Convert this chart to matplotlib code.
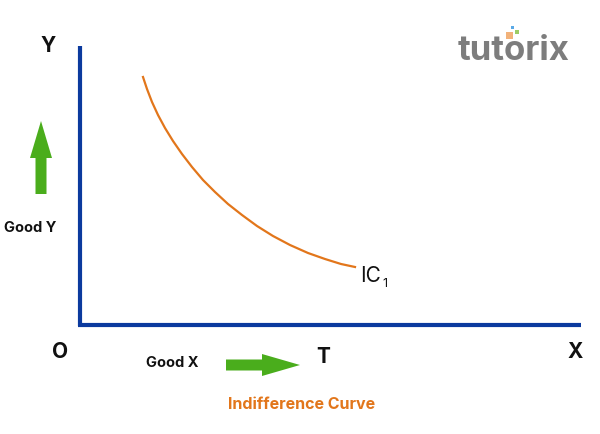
import matplotlib
matplotlib.use("Agg")
import matplotlib.pyplot as plt
from matplotlib.patches import FancyArrow, Rectangle

# Data (in picture coordinates, origin top-left)
curve_x = [143, 147, 152, 158, 165, 173, 182, 192, 203, 215, 228, 242, 257, 273, 290, 308, 325, 341, 355]
curve_y = [78, 90, 103, 116, 129, 142, 155, 168, 181, 193, 205, 216, 227, 237, 246, 254, 260, 265, 268]

y_axis_x = [80, 80]
y_axis_y = [47, 327]
x_axis_x = [78, 581]
x_axis_y = [326, 326]

BLUE = "#0b3a9e"
ORANGE = "#e2761b"
GREEN = "#4aad1c"
FONT = ["Inter", "DejaVu Sans"]

fig = plt.figure(figsize=(6, 4.35), dpi=100)
ax = fig.add_axes([0, 0, 1, 1])
ax.set_xlim(0, 600)
ax.set_ylim(435, 0)
ax.axis("off")

ax.plot(y_axis_x, y_axis_y, color=BLUE, lw=3.0, solid_capstyle="butt")
ax.plot(x_axis_x, x_axis_y, color=BLUE, lw=3.0, solid_capstyle="butt")
ax.plot(curve_x, curve_y, color=ORANGE, lw=1.6)

# Arrows
ax.add_patch(FancyArrow(41, 195, 0, -73, width=11, head_width=22, head_length=37,
                        length_includes_head=True, color=GREEN, lw=0))
ax.add_patch(FancyArrow(226, 366, 74, 0, width=11, head_width=22, head_length=38,
                        length_includes_head=True, color=GREEN, lw=0))

# Labels
kw = dict(family=FONT, color="#111", fontweight="bold")
ax.text(48, 46, "Y", fontsize=15, ha="center", va="center", **kw)
ax.text(60, 352, "O", fontsize=15, ha="center", va="center", **kw)
ax.text(575, 352, "X", fontsize=15, ha="center", va="center", **kw)
ax.text(323, 357, "T", fontsize=15, ha="center", va="center", **kw)
ax.text(4, 228, "Good Y", fontsize=10.5, ha="left", va="center", **kw)
ax.text(146, 363, "Good X", fontsize=10.5, ha="left", va="center", **kw)
ax.text(360, 276, "IC", fontsize=15, ha="left", va="center", family=FONT, color="#111")
ax.text(382, 284, "1", fontsize=9, ha="left", va="center", family=FONT, color="#111")
ax.text(302, 405, "Indifference Curve", fontsize=11.5, fontweight="bold", family=FONT,
        ha="center", va="center", color=ORANGE)

# Logo
ax.text(458, 60, "tutorix", fontsize=25, fontweight="bold", family=FONT, ha="left",
        va="baseline", color="#7d7d7d")
ax.add_patch(Rectangle((506, 33), 7, 7, color="#f2b27a", lw=0))
ax.add_patch(Rectangle((515, 31), 4, 4, color="#9ccc65", lw=0))
ax.add_patch(Rectangle((511, 27), 3, 3, color="#5aa9e6", lw=0))

fig.savefig("out.png", dpi=100)
